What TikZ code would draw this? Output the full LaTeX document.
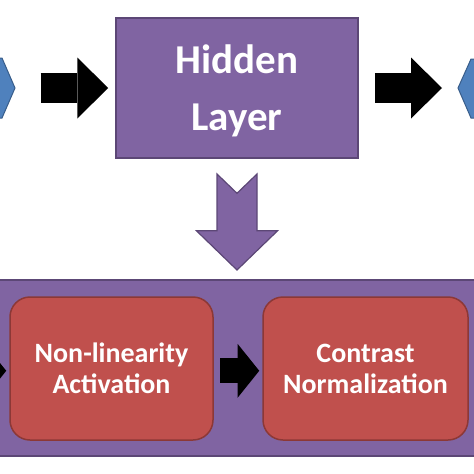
\documentclass[tikz,border=0pt]{standalone}
\usepackage{fontspec}
\setmainfont{Carlito}
\usetikzlibrary{arrows.meta,calc}
\definecolor{layerfill}{HTML}{8064A2}
\definecolor{layerline}{HTML}{5C4776}
\definecolor{opfill}{HTML}{C0504D}
\definecolor{opline}{HTML}{8C3836}
\definecolor{iofill}{HTML}{4F81BD}
\definecolor{ioline}{HTML}{385D8A}
\tikzset{x=1pt,y=-1pt,
        layerbox/.style={draw=layerline,fill=layerfill,line width=1.5pt},
        opbox/.style={draw=opline,fill=opfill,line width=1.5pt,rounded corners=20pt,
            minimum height=143pt,text=white,align=center,inner sep=0pt,
            font=\bfseries\fontsize{28}{31}\selectfont},
        iobox/.style={draw=ioline,fill=iofill,line width=1pt},
        bigflow/.style={line width=30.6pt,
            -{Triangle[length=31pt,width=61pt,line width=0pt]}},
        smallflow/.style={line width=25pt,
            -{Triangle[length=21.7pt,width=54pt,line width=0pt]}}
        }

\begin{document}
\begin{tikzpicture}
    \useasboundingbox (0,0) rectangle (474,474);
    \clip (0,0) rectangle (474,474);
    % input and output layers, only their tips are seen
    \draw[iobox] (-40,58) -- (2,58) -- (15,88) -- (2,118) -- (-40,118) -- cycle;
    \coordinate (input) at (15,88);
    \draw[iobox] (514,59) -- (471,59) -- (458,88) -- (471,118) -- (514,118) -- cycle;
    \coordinate (output) at (458,88);
    % hidden layer
    \node[layerbox,minimum width=242pt,minimum height=140pt,text=white,align=center,
        text depth=0pt,font=\bfseries\fontsize{41}{57}\selectfont] (hidden) at (237,88) {Hidden\\Layer};
    \draw[bigflow,shorten <=25.7pt,shorten >=7pt] (input) -- (hidden.west);
    \draw[bigflow,shorten <=16pt,shorten >=16pt] (hidden.east) -- (output);
    % what happens inside the hidden layer
    \node[layerbox,minimum width=500pt,minimum height=176pt] (inside) at (237,368) {};
    \coordinate (dtop) at (237,174);
    \draw[layerbox,line width=1.2pt,shift={(dtop)}] (-20,0) -- (0,19.3) -- (20,0) -- (20,56.7)
        -- (40.6,56.7) -- (0,96) -- (-40.6,56.7) -- (-20,56.7) -- cycle;
    \node[opbox,minimum width=203pt] (act) at (111.5,368.5) {Non-linearity\\Activation};
    \node[opbox,minimum width=205pt] (norm) at (365.5,368.5) {Contrast\\Normalization};
    \coordinate (prev) at (-60,370.8);
    \draw[smallflow,shorten >=3pt] (prev) -- (act.west |- prev);
    \draw[smallflow,shorten <=6.3pt,shorten >=3pt] (act.east |- prev) -- (norm.west |- prev);
\end{tikzpicture}
\end{document}
